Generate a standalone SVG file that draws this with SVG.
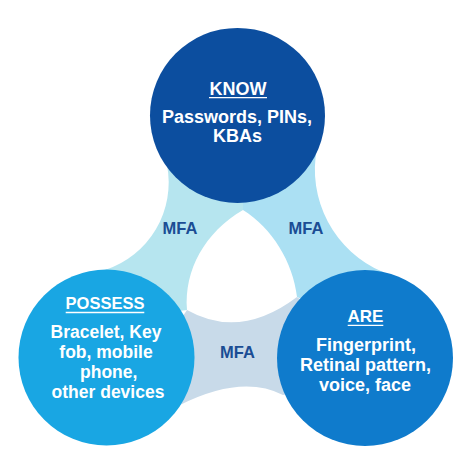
<svg xmlns="http://www.w3.org/2000/svg" width="474" height="474" viewBox="0 0 474 474">
<style>
.t{font-family:"Liberation Sans",Arial,sans-serif;font-weight:bold;fill:#ffffff;text-anchor:middle}
.mfa{font-family:"Liberation Sans",Arial,sans-serif;font-weight:bold;fill:#1b4d94;text-anchor:middle;font-size:16.5px}
.ul{stroke:#ffffff;stroke-width:1.4}
</style>
<rect width="474" height="474" fill="#ffffff"/>
<g id="connectors">
<path id="band-left" fill="#b6e5ef" d="M200 150 L167 165 A92 92 0 0 1 105 270 L110 320 L187 310 C184 270 205 232 243 210 L243 185 Z"/>
<path id="band-right" fill="#abe0f3" d="M280 150 L317 148 A111 111 0 0 0 383 272 L350 320 L297 297 C293 262 272 228 243 210 L243 185 Z"/>
<path id="band-bottom" fill="#c8dae9" d="M187 310 Q240 340 297 297 L330 320 L330 385 L283 395 Q242 374 180 405 L140 380 Z"/>
<text class="mfa" x="180" y="234">MFA</text>
<text class="mfa" x="306" y="234">MFA</text>
<text class="mfa" x="237.5" y="358">MFA</text>
</g>
<g id="node-know">
<circle cx="237.5" cy="115.4" r="87.5" fill="#0c4e9f"/>
<text class="t" x="238" y="94.5" font-size="18">KNOW</text>
<line class="ul" x1="209" y1="97.6" x2="267" y2="97.6"/>
<text class="t" x="237" y="122.5" font-size="18">Passwords, PINs,</text>
<text class="t" x="237.5" y="142" font-size="18">KBAs</text>
</g>
<g id="node-possess">
<circle cx="106.5" cy="357.5" r="88" fill="#19a6e3"/>
<text class="t" x="105" y="309.3" font-size="16.5">POSSESS</text>
<line class="ul" x1="65.7" y1="312.5" x2="144.3" y2="312.5"/>
<text class="t" x="106" y="338.3" font-size="17.5">Bracelet, Key</text>
<text class="t" x="106" y="358.3" font-size="17.5">fob, mobile</text>
<text class="t" x="108.7" y="378.3" font-size="17.5">phone,</text>
<text class="t" x="108" y="398.3" font-size="17.5">other devices</text>
</g>
<g id="node-are">
<circle cx="365" cy="358" r="88" fill="#0f7bcc"/>
<text class="t" x="365.5" y="322.3" font-size="17">ARE</text>
<line class="ul" x1="347.7" y1="325.4" x2="383.3" y2="325.4"/>
<text class="t" x="366" y="351" font-size="18">Fingerprint,</text>
<text class="t" x="365.5" y="371" font-size="18">Retinal pattern,</text>
<text class="t" x="365" y="390.7" font-size="18">voice, face</text>
</g>
</svg>
